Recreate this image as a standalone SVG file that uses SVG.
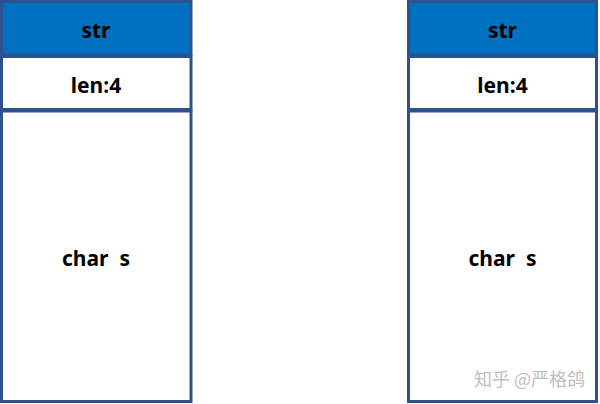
<svg xmlns="http://www.w3.org/2000/svg" width="600" height="404" viewBox="0 0 600 404">
<style>
.cell{stroke:#2F528F;stroke-width:3;fill:#FFFFFF}
.hdr{fill:#0070C0}
.t{font-family:"Noto Sans","DejaVu Sans",sans-serif;font-weight:bold;font-size:21px;text-anchor:middle;fill:#000000}
.wm{font-family:"Noto Sans CJK SC","Noto Sans",sans-serif;font-size:18px;fill:#BFBFBF}
</style>
<rect width="600" height="404" fill="#FFFFFF"/>
<g id="left">
<rect class="cell hdr" x="1.5" y="1.5" width="189.5" height="53.5"/>
<rect class="cell" x="1.5" y="56.5" width="189.5" height="53"/>
<rect class="cell" x="1.5" y="111" width="189.5" height="290.5"/>
<text class="t" x="96" y="38">str</text>
<text class="t" x="96" y="93">len:4</text>
<text class="t" x="96" y="266" xml:space="preserve">char  s</text>
</g>
<g id="right">
<rect class="cell hdr" x="408.5" y="1.5" width="188" height="53.5"/>
<rect class="cell" x="408.5" y="56.5" width="188" height="53"/>
<rect class="cell" x="408.5" y="111" width="188" height="290.5"/>
<text class="t" x="502.5" y="38">str</text>
<text class="t" x="502.5" y="93">len:4</text>
<text class="t" x="502.5" y="266" xml:space="preserve">char  s</text>
</g>
<g id="connectors"/>
<text class="wm" x="474" y="386">知乎 @严格鸽</text>
</svg>
